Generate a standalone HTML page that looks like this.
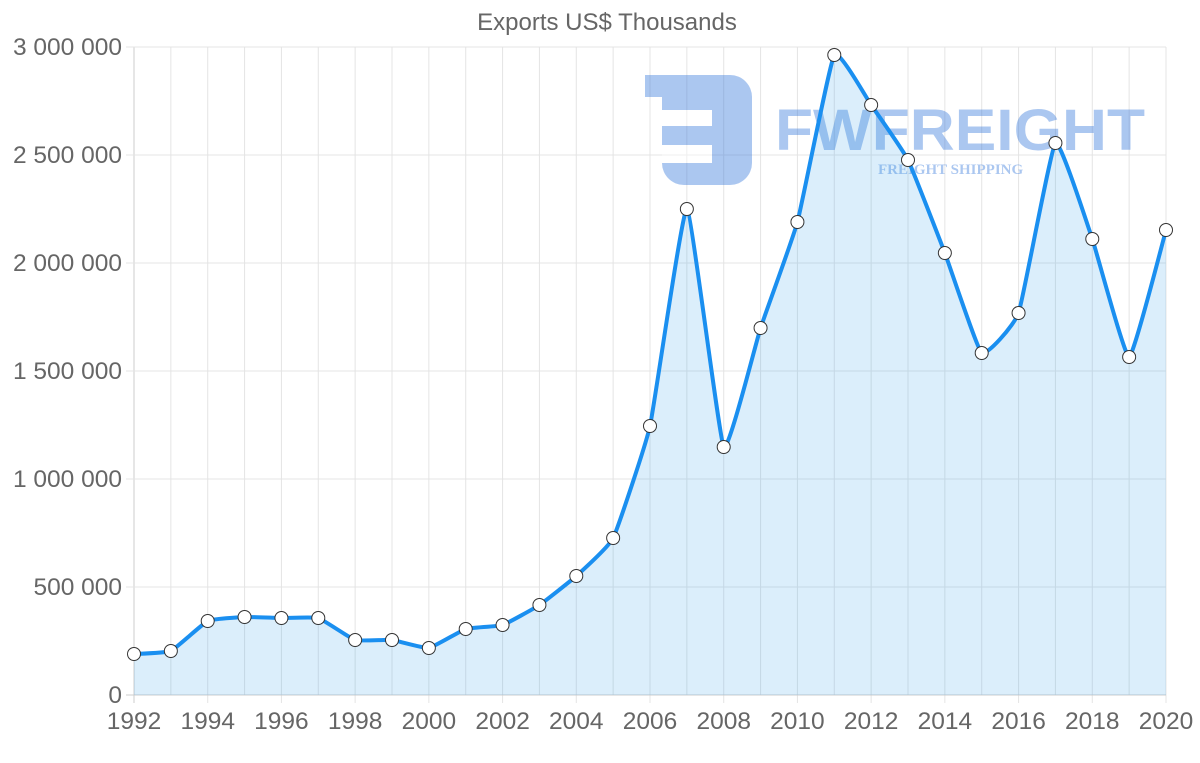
<!DOCTYPE html>
<html><head><meta charset="utf-8"><style>
html,body{margin:0;padding:0;background:#fff;}
svg{display:block;font-family:"Liberation Sans",sans-serif;}
</style></head><body>
<svg id="c" width="1200" height="763" xmlns="http://www.w3.org/2000/svg">
<text x="607" y="30" text-anchor="middle" font-size="24" fill="#666">Exports US$ Thousands</text>
<g id="grid" stroke="#e4e4e4" stroke-width="1"></g>
<g id="labels" fill="#666" font-size="24.5"></g>
<!-- watermark -->
<g opacity="0.42">
<rect x="662" y="75" width="90" height="110" rx="22" fill="#3a7bdc"/>
<rect x="645" y="75" width="70" height="22" fill="#3a7bdc"/>
<rect x="662" y="110" width="50" height="16" fill="#fff"/>
<rect x="662" y="145" width="50" height="18" fill="#fff"/>
<text x="775" y="150" font-size="58" font-weight="bold" fill="#3a7bdc" textLength="370" lengthAdjust="spacingAndGlyphs">FWFREIGHT</text>
<text x="878" y="174" font-size="15" font-weight="bold" fill="#3a7bdc" font-family="Liberation Serif,serif">FREIGHT SHIPPING</text>
</g>
<path id="area" fill="rgba(54,162,235,0.18)" stroke="none"/>
<path id="line" fill="none" stroke="#1a8ff0" stroke-width="4" stroke-linejoin="round"/>
<g id="pts"></g>
</svg>
<script>
var ys=[654,651,621,617,618,618,640,640,648,629,625,605,576,538,426,209,447,328,222,55,105,160,253,353,313,143,239,357,230];
var x0=134,x1=1166,dx=(x1-x0)/28,yb=695,yt=47;
var g=document.getElementById('grid'),L=document.getElementById('labels'),ns='http://www.w3.org/2000/svg';
function el(p,t,a,txt){var e=document.createElementNS(ns,t);for(var k in a)e.setAttribute(k,a[k]);if(txt)e.textContent=txt;p.appendChild(e);return e;}
for(var i=0;i<=28;i++){var x=x0+i*dx;el(g,'line',{x1:x,x2:x,y1:yt,y2:yb+(i%2==0?8:0),stroke:i==0?'#ccc':'#e4e4e4'});
 if(i%2==0)el(L,'text',{x:x,y:729,'text-anchor':'middle'},String(1992+i));}
var yl=['0','500 000','1 000 000','1 500 000','2 000 000','2 500 000','3 000 000'];
for(var j=0;j<=6;j++){var y=yb-j*(yb-yt)/6;el(g,'line',{x1:x0-8,x2:x1,y1:y,y2:y,stroke:j==0?'#ccc':'#e4e4e4'});
 el(L,'text',{x:122,y:y+8,'text-anchor':'end'},yl[j]);}
var P=ys.map(function(y,i){return [x0+i*dx,y];});
var d='M'+P[0][0]+','+P[0][1],t=0.12;
for(var i=0;i<P.length-1;i++){var p0=P[i-1]||P[i],p1=P[i],p2=P[i+1],p3=P[i+2]||p2;
 var c1x=p1[0]+(p2[0]-p0[0])*t/2,c1y=p1[1]+(p2[1]-p0[1])*t/2,c2x=p2[0]-(p3[0]-p1[0])*t/2,c2y=p2[1]-(p3[1]-p1[1])*t/2;
 d+=' C'+c1x+','+c1y+' '+c2x+','+c2y+' '+p2[0]+','+p2[1];}
document.getElementById('line').setAttribute('d',d);
document.getElementById('area').setAttribute('d',d+' L'+x1+','+yb+' L'+x0+','+yb+' Z');
var pg=document.getElementById('pts');
P.forEach(function(p){el(pg,'circle',{cx:p[0],cy:p[1],r:6.5,fill:'#fff',stroke:'#333','stroke-width':1});});
</script>
</body></html>
